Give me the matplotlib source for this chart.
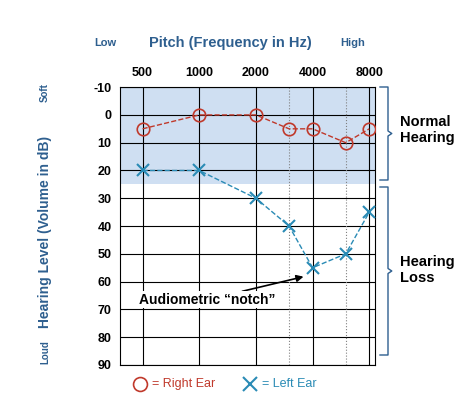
import numpy as np
import matplotlib.pyplot as plt
from matplotlib.patches import Rectangle

plt.rcParams['font.family'] = ['Liberation Sans', 'DejaVu Sans']

freqs = [500, 1000, 2000, 3000, 4000, 6000, 8000]
right_ear = [5, 0, 0, 5, 5, 10, 5]
left_ear = [20, 20, 30, 40, 55, 50, 35]
tick_freqs = [500, 1000, 2000, 4000, 8000]
tick_labels = ['500', '1000', '2000', '4000', '8000']
db_ticks = list(range(-10, 100, 10))

BLUE = '#2e5f8f'
fig = plt.figure(figsize=(4.74, 4.19), dpi=100)
ax = fig.add_axes([0.253, 0.129, 0.538, 0.663])
ax.set_xscale('log', base=2)
ax.set_xlim(500 * 2 ** -0.4, 8000 * 2 ** 0.1)
ax.set_ylim(90, -10)
ax.add_patch(Rectangle((ax.get_xlim()[0], -10), ax.get_xlim()[1] - ax.get_xlim()[0], 35,
                       facecolor='#cfdff2', edgecolor='none', zorder=0))
for y in db_ticks:
    ax.axhline(y, color='black', lw=0.8, zorder=1)
for f in tick_freqs:
    ax.axvline(f, color='black', lw=0.8, zorder=1)
for f in [3000, 6000]:
    ax.axvline(f, color='gray', lw=0.8, ls=':', zorder=1)
ax.plot(freqs, right_ear, color='#c0392b', ls='--', lw=1, marker='o', ms=9,
        mfc='none', mec='#c0392b', mew=1.2, zorder=3)
ax.plot(freqs, left_ear, color='#2a8bb5', ls='--', lw=1, marker='x', ms=9,
        mew=1.5, zorder=3)
ax.set_xticks(tick_freqs)
ax.set_xticklabels(tick_labels, fontweight='bold', fontsize=9)
ax.minorticks_off()
ax.xaxis.tick_top()
ax.set_yticks(db_ticks)
ax.set_yticklabels([str(v) for v in db_ticks], fontweight='bold', fontsize=9)
ax.tick_params(length=0, pad=6)
for s in ax.spines.values():
    s.set_linewidth(0.8)

fig.text(105/474, 1-43/419, 'Low', color=BLUE, fontsize=8, fontweight='bold', ha='center', va='center')
fig.text(230/474, 1-43/419, 'Pitch (Frequency in Hz)', color=BLUE, fontsize=10.5, fontweight='bold', ha='center', va='center')
fig.text(353/474, 1-43/419, 'High', color=BLUE, fontsize=8, fontweight='bold', ha='center', va='center')
fig.text(45/474, 1-232/419, 'Hearing Level (Volume in dB)', color=BLUE, fontsize=10, fontweight='bold',
         rotation=90, ha='center', va='center')
fig.text(45/474, 1-93/419, 'Soft', color=BLUE, fontsize=7, fontweight='bold', rotation=90, ha='center', va='center')
fig.text(45/474, 1-352/419, 'Loud', color=BLUE, fontsize=7, fontweight='bold', rotation=90, ha='center', va='center')

def bracket(y0, y1):
    x0, x1 = 380/474, 388/474
    ym = (y0 + y1) / 2
    fig.lines.append(plt.Line2D([x0, x1, x1, x1 + 0.008, x1, x1, x0],
                                [1-y0/419, 1-y0/419, 1-ym/419 + 0.006, 1-ym/419, 1-ym/419 - 0.006, 1-y1/419, 1-y1/419],
                                transform=fig.transFigure, color=BLUE, lw=1))
bracket(87, 180)
bracket(187, 355)
fig.text(400/474, 1-130/419, 'Normal\nHearing', fontsize=10.5, fontweight='bold', va='center', linespacing=1.2)
fig.text(400/474, 1-270/419, 'Hearing\nLoss', fontsize=10.5, fontweight='bold', va='center', linespacing=1.2)

ax.annotate('Audiometric \u201cnotch\u201d', xy=(3700, 58), xytext=(1100, 66.5),
            fontsize=10, fontweight='bold', ha='center', va='center',
            bbox=dict(facecolor='white', edgecolor='none', pad=1),
            arrowprops=dict(arrowstyle='-|>', color='black', lw=1.2, shrinkA=0, shrinkB=2))

ly = 1 - 384/419
fig.lines.append(plt.Line2D([140/474], [ly], transform=fig.transFigure, marker='o', ms=10,
                            mfc='none', mec='#c0392b', mew=1.2))
fig.text(152/474, ly, '= Right Ear', color='#c0392b', fontsize=9, va='center')
fig.lines.append(plt.Line2D([250/474], [ly], transform=fig.transFigure, marker='x', ms=10,
                            mec='#2a8bb5', mew=1.5))
fig.text(262/474, ly, '= Left Ear', color='#2a8bb5', fontsize=9, va='center')

fig.savefig('out.png', dpi=100)
